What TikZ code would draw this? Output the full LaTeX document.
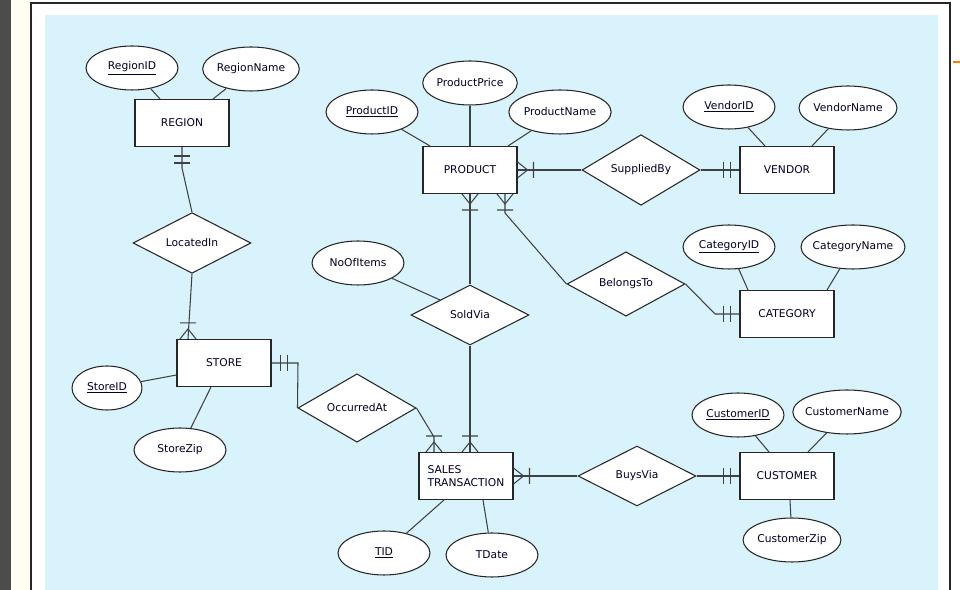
\documentclass[tikz,border=0pt]{standalone}
\usepackage{fontspec}
\setmainfont{DejaVu Sans}
\usetikzlibrary{shapes.geometric}
\begin{document}
\begin{tikzpicture}[x=0.02cm,y=-0.02cm,
  lbl/.style={font=\fontsize{6.1}{7.5}\selectfont, text=black!85!blue},
  ent/.style={lbl,draw=black!85,fill=white,semithick,minimum width=1.88cm,minimum height=0.94cm,inner sep=0},
  att/.style={lbl,draw=black!85,fill=white,semithick,ellipse,minimum width=1.84cm,minimum height=0.88cm,inner sep=0},
  rel/.style={lbl,draw=black!85,fill=white,semithick,diamond,minimum width=2.36cm,minimum height=1.2cm,inner sep=0},
  ln/.style={draw=black!75,semithick},
  crow/.pic={\draw[black!75,semithick] (0,-8)--(10,0)--(0,8) (16,-8)--(16,8);},
  dbl/.pic={\draw[black!75,semithick] (9,-8)--(9,8) (16,-8)--(16,8);}]
\useasboundingbox (0,0) rectangle (960,590);
\fill[black!70] (0,0) rectangle (11,590);
\fill[yellow!6] (11,0) rectangle (31,590);
\fill[white] (31,3) rectangle (950,590);
\draw[black!85,thick] (31,590)--(31,3)--(950,3)--(950,590);
\fill[cyan!15] (45,15) rectangle (938,590);
\draw[orange,thick] (953,62)--(960,62);

% entities
\node[ent] (region) at (182,123) {REGION};
\node[ent] (store) at (224,363) {STORE};
\node[ent,align=left] (sales) at (466,476) {SALES\\TRANSACTION};
\node[ent] (product) at (470,170) {PRODUCT};
\node[ent] (vendor) at (787,170) {VENDOR};
\node[ent] (category) at (787,314) {CATEGORY};
\node[ent] (customer) at (787,476) {CUSTOMER};
% relationships
\node[rel] (located) at (192,243) {LocatedIn};
\node[rel] (occurred) at (357,408) {OccurredAt};
\node[rel] (soldvia) at (470,315) {SoldVia};
\node[rel] (supplied) at (641,170) {SuppliedBy};
\node[rel] (belongs) at (626,284) {BelongsTo};
\node[rel] (buys) at (637,476) {BuysVia};
% attributes
\node[att] (regionid) at (132,68) {\underline{RegionID}};
\node[att] (regionname) at (251,69) {RegionName};
\node[att,minimum width=1.4cm] (storeid) at (107,388) {\underline{StoreID}};
\node[att] (storezip) at (180,450) {StoreZip};
\node[att] (tid) at (384,553) {\underline{TID}};
\node[att] (tdate) at (492,555) {TDate};
\node[att] (noofitems) at (358,263) {NoOfItems};
\node[att] (productid) at (372,112) {\underline{ProductID}};
\node[att] (productprice) at (470,83) {ProductPrice};
\node[att] (productname) at (560,112) {ProductName};
\node[att] (vendorid) at (729,107) {\underline{VendorID}};
\node[att] (vendorname) at (848,108) {VendorName};
\node[att] (categoryid) at (729,247) {\underline{CategoryID}};
\node[att,inner xsep=-2pt] (categoryname) at (853,247) {CategoryName};
\node[att] (customerid) at (738,415) {\underline{CustomerID}};
\node[att,inner xsep=-2pt] (customername) at (847,412) {CustomerName};
\node[att] (customerzip) at (792,540) {CustomerZip};

% attribute lines
\draw[ln] (regionid) -- (region.north -| 160,0) ;
\draw[ln] (regionname) -- (region.north -| 213,0);
\draw[ln] (storeid) -- (store.west |- 0,375);
\draw[ln] (storezip) -- (store.south -| 211,0);
\draw[ln] (tid) -- (sales.south -| 444,0);
\draw[ln] (tdate) -- (sales.south -| 483,0);
\coordinate (n1) at (440,300);
\draw[ln] (noofitems) -- (n1);
\draw[ln] (productid) -- (product.north -| 430,0);
\draw[ln] (productprice) -- (product.north);
\draw[ln] (productname) -- (product.north -| 508,0);
\draw[ln] (vendorid) -- (vendor.north -| 765,0);
\draw[ln] (vendorname) -- (vendor.north -| 812,0);
\draw[ln] (categoryid) -- (category.north -| 748,0);
\draw[ln] (categoryname) -- (category.north -| 827,0);
\draw[ln] (customerid) -- (customer.north -| 769,0);
\draw[ln] (customername) -- (customer.north -| 808,0);
\draw[ln] (customerzip) -- (customer.south -| 790,0);

% relationship lines
\coordinate (r1) at (182,168);
\draw[ln] (region.south) -- (r1) -- (located.north);
\draw[ln] (located.south) -- (store.north -| 188,0);
\coordinate (s1) at (298,363);
\draw[ln] (store.east) -- (s1) -- (occurred.west);
\coordinate (o1) at (434,437);
\draw[ln] (occurred.east) -- (o1) -- (sales.north -| 434,0);
\draw[ln] (soldvia.south) -- (sales.north -| 470,0);
\draw[ln] (soldvia.north) -- (product.south);
\coordinate (p1) at (505,213);
\draw[ln] (product.south -| 505,0) -- (p1) -- (belongs.west);
\coordinate (b1) at (715,314);
\draw[ln] (belongs.east) -- (b1) -- (category.west);
\draw[ln] (product.east) -- (supplied.west);
\draw[ln] (supplied.east) -- (vendor.west);
\draw[ln] (sales.east) -- (buys.west);
\draw[ln] (buys.east) -- (customer.west);

% cardinality marks
\pic[rotate=-90] at (region.south) {dbl};
\pic[rotate=90] at (store.north -| 188,0) {crow};
\pic at (store.east) {dbl};
\pic[rotate=90] at (sales.north -| 434,0) {crow};
\pic[rotate=90] at (sales.north -| 470,0) {crow};
\pic[rotate=-90] at (product.south) {crow};
\pic[rotate=-90] at (product.south -| 505,0) {crow};
\pic at (product.east) {crow};
\pic[rotate=180] at (vendor.west) {dbl};
\pic[rotate=180] at (category.west) {dbl};
\pic at (sales.east) {crow};
\pic[rotate=180] at (customer.west) {dbl};
\end{tikzpicture}
\end{document}
